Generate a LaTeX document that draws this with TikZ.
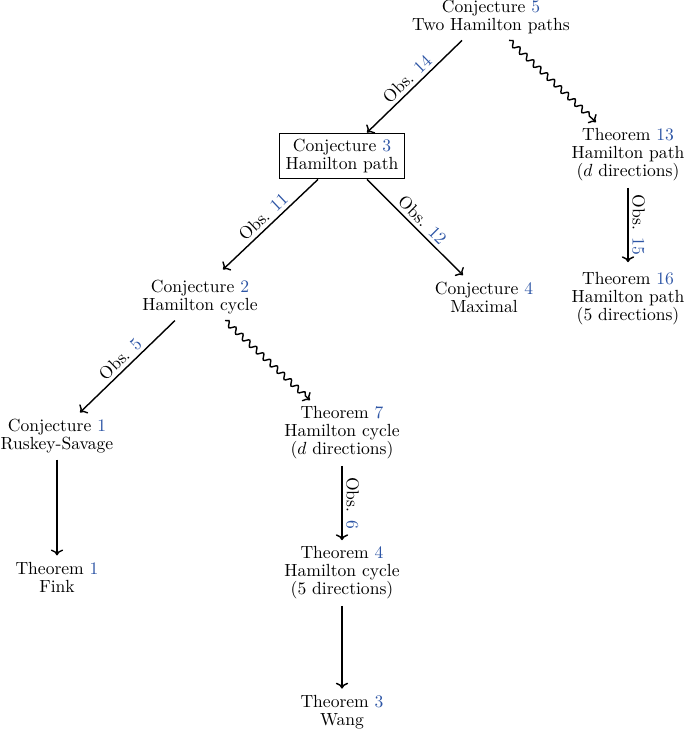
\documentclass[tikz,border=0pt]{standalone}
\usepackage{amsmath}
\usepackage{tikz}
\usetikzlibrary{positioning, arrows.meta, calc, decorations.pathmorphing}

\definecolor{refblue}{RGB}{45,85,165}
\newcommand{\rf}[1]{\textcolor{refblue}{#1}}

\begin{document}
\begin{tikzpicture}[x=0.02cm, y=-0.02cm, line width=0.8pt,
  every node/.style={font=\fontsize{10pt}{10.2pt}\selectfont, align=center},
  imp/.style={->},
  wave/.style={->, decorate, decoration={snake, amplitude=1.5pt, segment length=5.4pt, post length=3pt}},
  obs/.style={sloped, above, inner sep=2pt}]

\useasboundingbox (0,0) rectangle (685,731);

% --- top row ---
\node (c5) at (491,17) {Conjecture \rf{5}\\Two Hamilton paths};
\node[draw] (c3) at (342,156) {Conjecture \rf{3}\\Hamilton path};
\node (t13) at (628,155) {Theorem \rf{13}\\Hamilton path\\($d$ directions)};

% --- second row ---
\node (c2) at (200,297) {Conjecture \rf{2}\\Hamilton cycle};
\node (c4) at (484,297) {Conjecture \rf{4}\\Maximal};
\node (t16) at (628,299) {Theorem \rf{16}\\Hamilton path\\(5 directions)};

% --- lower part ---
\node (c1) at (57,436) {Conjecture \rf{1}\\Ruskey-Savage};
\node (t7) at (342,433) {Theorem \rf{7}\\Hamilton cycle\\($d$ directions)};
\node (t1) at (57,577) {Theorem \rf{1}\\Fink};
\node (t4) at (342,573) {Theorem \rf{4}\\Hamilton cycle\\(5 directions)};
\node (t3) at (342,712) {Theorem \rf{3}\\Wang};

% implications
\draw[imp] ($(c5.south)+(-29,0)$) -- node[obs] {Obs. \rf{14}} ($(c3.north)+(25,0)$);
\draw[wave] ($(c5.south)+(18,0)$) -- ($(t13.north)+(-32,0)$);
\draw[imp] ($(c3.south)+(-24,0)$) -- node[obs] {Obs. \rf{11}} ($(c2.north)+(23,-4)$);
\draw[imp] ($(c3.south)+(25,0)$) -- node[obs] {Obs. \rf{12}} ($(c4.north)+(-21,0)$);
\draw[imp] (t13) -- node[obs] {Obs. \rf{15}} ($(t16.north)+(0,-4)$);
\draw[imp] ($(c2.south)+(-25,0)$) -- node[obs] {Obs. \rf{5}} ($(c1.north)+(23,0)$);
\draw[wave] ($(c2.south)+(25,0)$) -- ($(t7.north)+(-32,0)$);
\draw[imp] (c1) -- (t1);
\draw[imp] (t7) -- node[obs] {Obs. \rf{6}} (t4);
\draw[imp] (t4) -- (t3);

\end{tikzpicture}
\end{document}
